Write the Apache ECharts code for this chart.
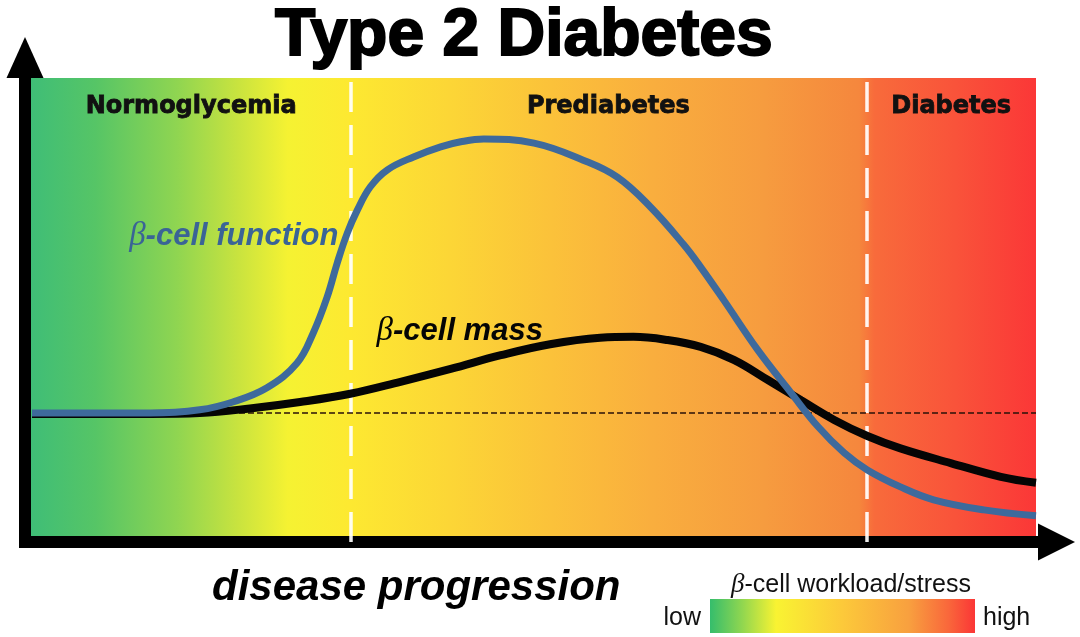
<!DOCTYPE html>
<html>
<head>
<meta charset="utf-8">
<script src="https://cdn.jsdelivr.net/npm/echarts@6/dist/echarts.min.js"></script>
<style>
  html, body { margin: 0; padding: 0; background: #fff; }
  #chart { width: 1080px; height: 637px; }
</style>
</head>
<body>
<div id="chart"></div>
<script>
// disease progression (0-100) vs. relative level (0-100)
const functionX = [0, 11.8, 16.7, 20.0, 23.4, 26.4, 28.0, 29.4, 30.4, 31.4, 32.4, 33.7, 35.4, 38.0, 40.7,
  42.7, 45.0, 50.0, 54.9, 58.3, 61.6, 64.9, 66.6, 68.9, 72.3, 75.6, 78.3, 80.9, 83.2, 86.5, 89.8, 94.8, 100];
const functionY = [27.0, 27.0, 27.7, 29.4, 32.5, 37.9, 44.4, 52.3, 59.7, 66.2, 71.2, 76.3, 80.0, 82.8, 85.0,
  86.1, 86.7, 85.8, 82.1, 78.4, 71.9, 63.7, 58.8, 51.6, 40.7, 31.4, 24.0, 18.3, 14.6, 10.9, 8.1, 5.9, 4.6];

const massX = [0, 11.8, 16.7, 21.7, 26.7, 31.7, 36.7, 41.7, 46.7, 51.6, 56.6, 59.9, 63.3, 66.6,
  69.9, 73.3, 76.6, 79.9, 83.2, 86.5, 91.5, 96.5, 100];
const massY = [26.8, 26.8, 27.0, 28.0, 29.4, 31.2, 33.8, 36.6, 39.6, 42.0, 43.4, 43.6, 42.9, 41.4,
  38.6, 34.2, 29.8, 25.5, 22.0, 19.3, 16.1, 13.1, 11.8];

const baselineLevel = 27.0;
const stageNames = ['Normoglycemia', 'Prediabetes', 'Diabetes'];
const stageBounds = [0, 31.7, 83.1, 100];
const stressLabels = ['low', 'high'];

const chart = echarts.init(document.getElementById('chart'));

const bgStops = [
  [0, '#3dbd78'], [0.07, '#56c566'], [0.15, '#8fd551'], [0.21, '#c8e33f'], [0.26, '#f5f232'],
  [0.32, '#fde931'], [0.42, '#fcd636'], [0.52, '#fbc23a'], [0.62, '#f9ae3e'], [0.73, '#f69c3f'],
  [0.825, '#f5873d'], [0.84, '#f86b3b'], [0.92, '#f9533a'], [1, '#fb3737']
];
const legendStops = [
  [0, '#35bd6c'], [0.12, '#8fd650'], [0.25, '#f9f332'], [0.5, '#fcc93a'],
  [0.75, '#f8a03f'], [0.9, '#f9673b'], [1, '#fb3636']
];
const toGradient = (stops) => new echarts.graphic.LinearGradient(0, 0, 1, 0,
  stops.map(([offset, color]) => ({ offset, color })));

const betaRich = (size, color) => ({
  b: { fontFamily: 'Liberation Serif', fontStyle: 'italic', fontSize: size + 2, color },
  t: { fontFamily: 'Liberation Sans', fontStyle: 'italic', fontWeight: 'bold', fontSize: size, color }
});

const arrowAxis = (size, offset) => ({
  show: true,
  onZero: false,
  symbol: ['none', 'triangle'],
  symbolSize: size,
  symbolOffset: [0, offset],
  lineStyle: { color: '#000', width: 12, cap: 'square' }
});

chart.setOption({
  animation: false,
  title: [
    {
      text: 'Type 2 Diabetes',
      left: 275,
      top: 4,
      padding: 0,
      textStyle: {
        fontFamily: 'Liberation Sans', fontWeight: 'bold', fontSize: 66, color: '#000',
        textBorderColor: '#000', textBorderWidth: 2
      }
    },
    {
      text: 'disease progression',
      left: 212,
      top: 567,
      padding: 0,
      textStyle: {
        fontFamily: 'Liberation Sans', fontWeight: 'bold', fontStyle: 'italic', fontSize: 42, color: '#000'
      }
    }
  ],
  grid: {
    left: 25,
    right: 44,
    top: 78,
    bottom: 95,
    show: true,
    borderWidth: 0,
    backgroundColor: toGradient(bgStops)
  },
  xAxis: {
    type: 'value',
    min: -0.7,
    max: 100,
    axisLine: arrowAxis([37, 37], 20.5),
    axisTick: { show: false },
    axisLabel: { show: false },
    splitLine: { show: false }
  },
  yAxis: {
    type: 'value',
    min: -1.1,
    max: 100,
    axisLine: arrowAxis([37, 41], 20.5),
    axisTick: { show: false },
    axisLabel: { show: false },
    splitLine: { show: false }
  },
  series: [
    {
      name: 'β-cell mass',
      type: 'line',
      smooth: 0.4,
      showSymbol: false,
      lineStyle: { color: '#050505', width: 8 },
      data: massX.map((x, i) => [x, massY[i]]),
      markArea: {
        silent: true,
        itemStyle: { color: 'rgba(0,0,0,0)' },
        label: {
          show: true,
          position: 'insideTop',
          distance: 17,
          fontFamily: 'DejaVu Sans',
          fontWeight: 'bold',
          fontSize: 24,
          color: '#111',
          textBorderColor: '#111',
          textBorderWidth: 0.8
        },
        data: stageNames.map((name, i) => [{ name, xAxis: stageBounds[i] }, { xAxis: stageBounds[i + 1] }])
      },
      markLine: {
        silent: true,
        z: 1,
        symbol: ['none', 'none'],
        label: { show: false },
        data: [
          ...stageBounds.slice(1, -1).map((x) => ({
            xAxis: x,
            lineStyle: { color: 'rgba(255,255,255,0.92)', width: 3.5, type: [30, 13] }
          })),
          [
            { coord: [0, baselineLevel], lineStyle: { color: '#2a1208', width: 1.5, type: [6, 3] } },
            { coord: [100, baselineLevel] }
          ]
        ]
      },
      markPoint: {
        silent: true,
        symbol: 'rect',
        symbolSize: 1,
        itemStyle: { color: 'rgba(0,0,0,0)' },
        label: {
          show: true,
          position: 'inside',
          formatter: '{b|β}{t|-cell mass}',
          rich: betaRich(31, '#050505')
        },
        data: [{ coord: [42.6, 44.7] }]
      }
    },
    {
      name: 'β-cell function',
      type: 'line',
      smooth: 0.4,
      showSymbol: false,
      lineStyle: { color: '#3e6a9c', width: 7 },
      data: functionX.map((x, i) => [x, functionY[i]]),
      markPoint: {
        silent: true,
        symbol: 'rect',
        symbolSize: 1,
        itemStyle: { color: 'rgba(0,0,0,0)' },
        label: {
          show: true,
          position: 'inside',
          formatter: '{b|β}{t|-cell function}',
          rich: betaRich(31, '#3a6496')
        },
        data: [{ coord: [20.1, 65.4] }]
      }
    }
  ],
  graphic: [
    {
      type: 'rect',
      left: 710,
      top: 599,
      shape: { width: 265, height: 34 },
      style: { fill: toGradient(legendStops) }
    },
    {
      type: 'text',
      x: 851,
      y: 585,
      style: {
        text: '{b|β}{t|-cell workload/stress}',
        align: 'center',
        verticalAlign: 'middle',
        rich: {
          b: { fontFamily: 'Liberation Serif', fontStyle: 'italic', fontSize: 27, fill: '#111' },
          t: { fontFamily: 'Liberation Sans', fontSize: 25, fill: '#111' }
        }
      }
    },
    {
      type: 'text',
      x: 701,
      y: 618,
      style: {
        text: stressLabels[0], align: 'right', verticalAlign: 'middle',
        font: '25px "Liberation Sans"', fill: '#111'
      }
    },
    {
      type: 'text',
      x: 983,
      y: 618,
      style: {
        text: stressLabels[1], align: 'left', verticalAlign: 'middle',
        font: '25px "Liberation Sans"', fill: '#111'
      }
    }
  ]
});
</script>
</body>
</html>
